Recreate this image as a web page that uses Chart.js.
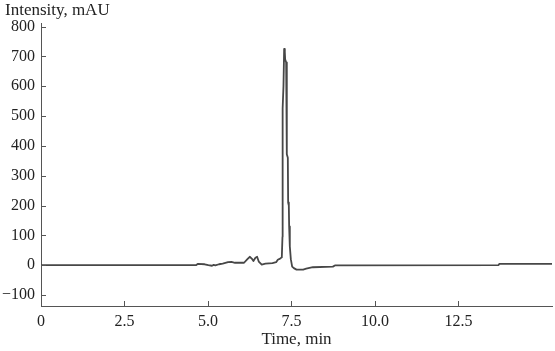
<!DOCTYPE html>
<html>
<head>
<meta charset="utf-8">
<script src="https://cdn.jsdelivr.net/npm/chart.js@4"></script>
<style>
  html, body { margin: 0; padding: 0; background: #fff; }
  #wrap { width: 555px; height: 351px; }
</style>
</head>
<body>
<div id="wrap"><canvas id="chromChart"></canvas></div>
<script>
// chromatogram
const times = [
  0, 4.64, 4.69, 4.90, 5.01, 5.12, 5.17, 5.22, 5.33, 5.44,
  5.60, 5.70, 5.81, 6.08, 6.18, 6.25, 6.31, 6.36, 6.42, 6.47,
  6.52, 6.61, 6.72, 6.93, 7.04, 7.09, 7.16, 7.21, 7.23, 7.235,
  7.26, 7.28, 7.30, 7.31, 7.34, 7.36, 7.39, 7.40, 7.42, 7.43,
  7.45, 7.48, 7.52, 7.57, 7.65, 7.85, 7.94, 8.14, 8.74, 8.80,
  13.70, 13.72, 15.30
];
const intensity = [
  0, 0, 4, 3, 0, -2, 1, -1, 3, 5,
  10, 11, 8, 8, 20, 28, 22, 14, 25, 28,
  12, 2, 5, 7, 10, 18, 22, 26, 95, 525,
  600, 725, 715, 690, 680, 372, 360, 210, 200, 130,
  63, 20, -5, -10, -15, -15, -12, -7, -5, -1,
  0, 4, 4
];
const xTicks = [0, 2.5, 5.0, 7.5, 10.0, 12.5];
const yTicks = [-100, 0, 100, 200, 300, 400, 500, 600, 700, 800];

const axisColor = '#555555';
const family = '"Liberation Serif", "DejaVu Serif", serif';
const tickFont = { family: family, size: 16 };
const titleFont = { family: family, size: 17 };

// inward tick marks and the y title at the top left
const extras = {
  id: 'extras',
  afterDraw(chart) {
    const ctx = chart.ctx;
    const xs = chart.scales.x;
    const ys = chart.scales.y;
    const area = chart.chartArea;
    ctx.save();
    ctx.strokeStyle = axisColor;
    ctx.lineWidth = 1;
    ctx.beginPath();
    yTicks.forEach(v => {
      const y = Math.round(ys.getPixelForValue(v)) + 0.5;
      ctx.moveTo(area.left, y);
      ctx.lineTo(area.left + 5, y);
    });
    xTicks.forEach(v => {
      const x = Math.round(xs.getPixelForValue(v)) + 0.5;
      ctx.moveTo(x, area.bottom);
      ctx.lineTo(x, area.bottom - 5);
    });
    ctx.stroke();
    ctx.fillStyle = '#222';
    ctx.font = titleFont.size + 'px ' + family;
    ctx.textBaseline = 'middle';
    ctx.textAlign = 'left';
    ctx.fillText('Intensity, mAU', 5, 11);
    ctx.restore();
  }
};

new Chart(document.getElementById('chromChart'), {
  type: 'line',
  data: {
    datasets: [{
      data: times.map((t, i) => ({ x: t, y: intensity[i] })),
      borderColor: '#474747',
      borderWidth: 1.8,
      borderJoinStyle: 'round',
      pointRadius: 0,
      tension: 0,
      fill: false
    }]
  },
  options: {
    responsive: true,
    maintainAspectRatio: false,
    animation: false,
    layout: { padding: { top: 23, right: 3, left: 0, bottom: 0 } },
    plugins: {
      legend: { display: false },
      tooltip: { enabled: false }
    },
    scales: {
      x: {
        type: 'linear',
        min: 0,
        max: 15.3,
        afterFit(scale) { scale.height = 45; },
        afterBuildTicks(scale) { scale.ticks = xTicks.map(v => ({ value: v })); },
        grid: { display: false, drawTicks: false },
        border: { display: true, color: axisColor, width: 1 },
        ticks: {
          color: '#222',
          font: tickFont,
          padding: 6,
          maxRotation: 0,
          autoSkip: false,
          callback: v => v === 0 ? '0' : v.toFixed(1)
        },
        title: {
          display: true,
          text: 'Time, min',
          color: '#222',
          font: titleFont,
          padding: { top: 0, bottom: 1 }
        }
      },
      y: {
        min: -137,
        max: 812,
        afterFit(scale) { scale.width = 41; },
        afterBuildTicks(scale) { scale.ticks = yTicks.map(v => ({ value: v })); },
        grid: { display: false, drawTicks: false },
        border: { display: true, color: axisColor, width: 1 },
        ticks: {
          color: '#222',
          font: tickFont,
          padding: 6,
          autoSkip: false,
          callback: v => v < 0 ? '\u2212' + Math.abs(v) : String(v)
        }
      }
    }
  },
  plugins: [extras]
});
</script>
</body>
</html>
